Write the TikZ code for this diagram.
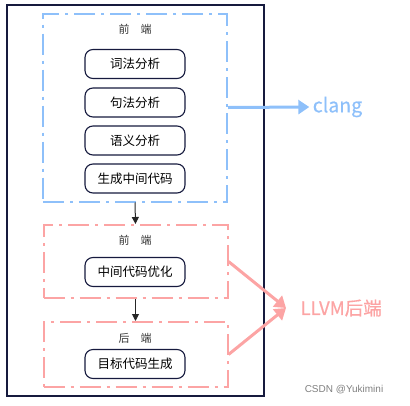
\documentclass[tikz,border=0pt]{standalone}
\usepackage{fontspec}
\setmainfont{Noto Sans CJK SC}
\setsansfont{Liberation Sans}
\newfontfamily\labelfont[FakeBold=0.6]{Noto Sans CJK SC}
\usetikzlibrary{arrows.meta}
\definecolor{fblue}{RGB}{142,192,250}
\definecolor{bpink}{RGB}{252,164,164}
\definecolor{navy}{RGB}{22,26,62}
\tikzset{
  phase/.style={draw=#1,line width=2pt,dash pattern=on 21pt off 6pt on 3pt off 6pt,minimum width=184pt,inner sep=0pt},
  stepbox/.style={draw=navy,line width=1.1pt,rounded corners=8pt,minimum width=100pt,minimum height=29pt,inner sep=0pt,font=\fontsize{12.5}{14}\selectfont},
  title/.style={font=\fontsize{11}{13}\selectfont,text=black!80},
  flow/.style={-{Triangle[width=7pt,length=7pt]},line width=1pt,black!85},
  big/.style={-{Triangle[width=14pt,length=11pt]},line width=3pt,#1}
}
\begin{document}
\begin{tikzpicture}[x=1pt,y=-1pt]
    \useasboundingbox (0,0) rectangle (410,405);
    \draw[navy,line width=1.2pt] (7,5) rectangle (264,396);
    % front end
    \node[phase=fblue,minimum height=188pt] (fe) at (135,107.5) {};
    \node[title] (fet) at (135,29) {前\quad 端};
    \node[stepbox] (lex) at (135,64) {词法分析};
    \node[stepbox] (syn) at (135,102.5) {句法分析};
    \node[stepbox] (sem) at (135,140.5) {语义分析};
    \node[stepbox] (gen) at (135,178.5) {生成中间代码};
    % optimiser
    \node[phase=bpink,minimum height=73pt] (mid) at (135.5,261.5) {};
    \node[title] (midt) at (135,240) {前\quad 端};
    \node[stepbox] (opt) at (135,272) {中间代码优化};
    % back end
    \node[phase=bpink,minimum height=65pt] (back) at (135.5,354.5) {};
    \node[title] (backt) at (135,338) {后\quad 端};
    \node[stepbox] (tgt) at (135,364) {目标代码生成};
    \draw[flow] (fe.south) -- (mid.north);
    \draw[flow] (mid.south) -- (back.north);
    % labels on the right
    \node[fblue,font=\labelfont\fontsize{19.5}{22}\selectfont] (clang) at (337.5,107) {clang};
    \draw[big=fblue] (fe.east) -- (clang.west);
    \node[bpink,font=\labelfont\fontsize{18.5}{22}\selectfont,anchor=west] (llvm) at (297,308) {LLVM后端};
    \coordinate (meet) at (286,308);
    \draw[big=bpink] (mid.east) -- (meet);
    \draw[big=bpink] (back.east) -- (meet);
    \node[gray,font=\sffamily\fontsize{10}{12}\selectfont] (mark) at (344,390) {CSDN @Yukimini};
\end{tikzpicture}
\end{document}
